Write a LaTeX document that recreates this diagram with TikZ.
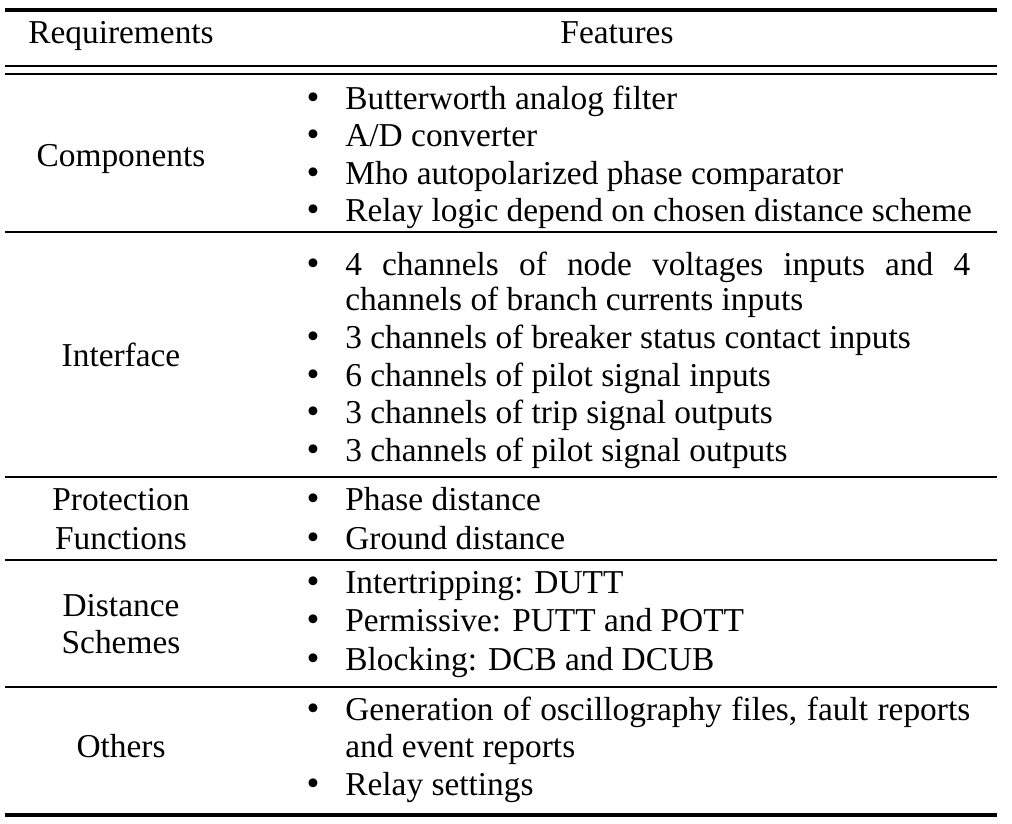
\documentclass[tikz,border=0pt]{standalone}
\usepackage{fontspec}
\setmainfont{Liberation Serif}
\begin{document}
\begin{tikzpicture}
  [x=0.02cm, y=-0.02cm,
    every cell/.style={anchor=base, inner sep=0pt, font=\fontsize{19}{22}\selectfont},
    every item/.style={every cell, anchor=base west},
    bullet mark/.style={every cell, anchor=base, font=\fontsize{21}{22}\selectfont},
    thin rule/.style={line width=1.2pt},
    thick rule/.style={line width=2.6pt}
  ]
\useasboundingbox (0,0) rectangle (1012,824);
% Rules
\draw [thick rule] (5,10) -- (997,10);
\draw [thin rule] (5,66) -- (997,66);
\draw [thin rule] (5,74) -- (997,74);
\foreach \y in {232,477,560,687}
  \draw [thin rule] (5,\y) -- (997,\y);
\draw [thick rule] (5,815) -- (997,815);

% Header
\node [every cell] (head-req) at (121,44) {Requirements};
\node [every cell] (head-feat) at (617,44) {Features};

% Requirements column
\foreach \t/\y [count=\i] in {Components/167, Interface/367, Protection/511,
    Functions/549, Distance/616, Schemes/653, Others/757}
  \node [every cell] (req-\i) at (121,\y) {\t};

% Bullets
\foreach \y [count=\i] in {110,147,185,222, 276,349,387,424,461, 511,549,
    593,631,670, 720,795}
  \node [bullet mark] (dot-\i) at (313,\y) {\textbullet};

% Features
\foreach \t/\y [count=\i] in {Butterworth analog filter/110, {A/D converter}/147,
    Mho autopolarized phase comparator/185,
    Relay logic depend on chosen distance scheme/222,
    {\makebox[12.5cm][s]{4 channels of node voltages inputs and 4}}/276,
    channels of branch currents inputs/311,
    3 channels of breaker status contact inputs/349,
    6 channels of pilot signal inputs/387,
    3 channels of trip signal outputs/424,
    3 channels of pilot signal outputs/461,
    Phase distance/511, Ground distance/549,
    Intertripping: DUTT/593, Permissive: PUTT and POTT/631,
    Blocking: DCB and DCUB/670,
    {\makebox[12.5cm][s]{Generation of oscillography files, fault reports}}/720,
    and event reports/757, Relay settings/795}
  \node [every item] (feat-\i) at (345,\y) {\t};
\end{tikzpicture}
\end{document}
